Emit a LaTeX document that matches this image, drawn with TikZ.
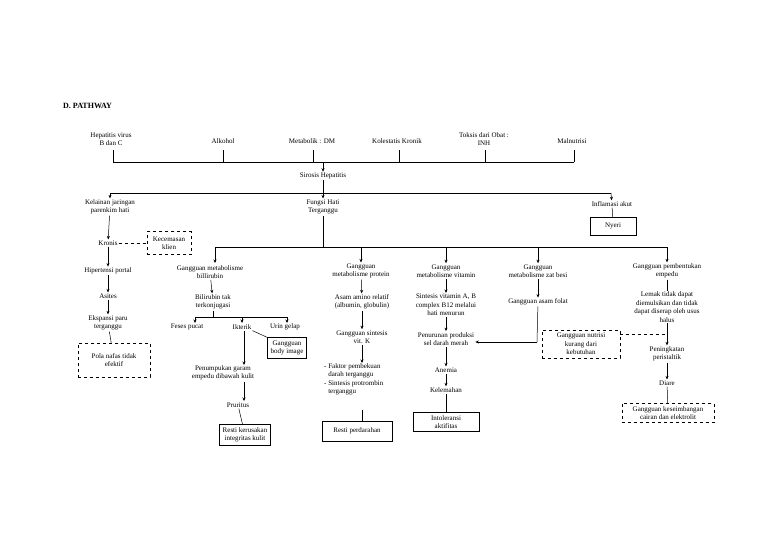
\documentclass[tikz,border=0pt]{standalone}
\usepackage{fontspec}
\setmainfont{Liberation Serif}
\usetikzlibrary{arrows.meta}
\begin{document}
\begin{tikzpicture}[x=1pt,y=-1pt,
  every node/.style={font=\fontsize{7}{8.5}\selectfont,align=center,inner sep=1pt},
  ln/.style={line width=0.5pt},
  ar/.style={line width=0.5pt,-{Stealth[length=3.5pt,width=3pt]}},
  dbox/.style={draw,dashed,line width=0.5pt,inner sep=3pt},
  sbox/.style={draw,line width=0.5pt,inner sep=3pt},
  dl/.style={dashed,line width=0.5pt}]
\useasboundingbox (0,0) rectangle (768,543);
\node[font=\fontsize{8}{9}\selectfont\bfseries,anchor=west] (title) at (62,106) {D. PATHWAY};
% causes
\node (c1) at (111,139) {Hepatitis virus\\B dan C};
\node (c2) at (223,141) {Alkohol};
\node (c3) at (312,141) {Metabolik : DM};
\node (c4) at (397,141) {Kolestatis Kronik};
\node (c5) at (484,139) {Toksis dari Obat :\\INH};
\node (c6) at (572,141) {Malnutrisi};
\foreach \x in {113,223,313,399,485,574} \draw[ln] (\x,150) -- (\x,162);
\draw[ln] (113,162) -- (574,162);
\node (sir) at (323,176) {Sirosis Hepatitis};
\coordinate (s0) at (323,162);
\draw[ar] (s0) -- (sir);
\draw[ln] (sir.south) -- (323,193);
\draw[ln] (110,193) -- (611,193);
\node (kel) at (110,207) {Kelainan jaringan\\parenkim hati};
\node (fun) at (323,207) {Fungsi Hati\\Terganggu};
\node (inf) at (612,204) {Inflamasi akut};
\draw[ar] (110,193) -- (kel);
\draw[ar] (323,193) -- (fun);
\draw[ar] (611,193) -- (inf);
\node[sbox,minimum width=46pt,minimum height=18pt] (nyeri) at (613,226) {Nyeri};
\draw[ln] (inf) -- (nyeri);
% left column
\node (kro) at (108,243) {Kronis};
\node (hip) at (108,271) {Hipertensi portal};
\node (asi) at (108,296) {Asites};
\node (eks) at (108,323) {Ekspansi paru\\terganggu};
\node[dbox,minimum width=72pt,minimum height=34pt] (pola) at (114,360) {Pola nafas tidak\\efektif};
\node[dbox,minimum width=44pt,minimum height=23pt] (kec) at (169,243) {Kecemasan\\klien};
\draw[ar] (kel) -- (kro);
\draw[ar] (kro) -- (hip);
\draw[ar] (hip) -- (asi);
\draw[ar] (asi) -- (eks);
\draw[ln] (eks) -- (pola);
\draw[dl] (kro) -- (kec);
% second level
\draw[ln] (fun) -- (323,247);
\draw[ln] (215,247) -- (667,247);
\node (bil) at (210,272) {Gangguan metabolisme\\billirubin};
\node (pro) at (361,271) {Gangguan\\metabolisme protein};
\node (vit) at (446,271) {Gangguan\\metabolisme vitamin};
\node (zat) at (538,271) {Gangguan\\metabolisme zat besi};
\node (emp) at (667,271) {Gangguan pembentukan\\empedu};
\draw[ar] (215,247) -- (215,263);
\draw[ar] (361,247) -- (pro);
\draw[ar] (446,247) -- (vit);
\draw[ar] (538,247) -- (zat);
\draw[ar] (667,247) -- (emp);
% bilirubin
\node (bt) at (213,302) {Bilirubin tak\\terkonjugasi};
\draw[ar] (bil) -- (bt);
\draw[ln] (bt) -- (213,317);
\draw[ln] (195,317) -- (287,317);
\node (fes) at (187,327) {Feses pucat};
\node (ikt) at (242,327) {Ikterik};
\node (uri) at (285,327) {Urin gelap};
\draw[ar] (195,317) -- (195,323);
\draw[ar] (242,317) -- (242,323);
\draw[ar] (287,317) -- (287,323);
\node[sbox] (body) at (287,348) {Gangguan\\body image};
\draw[ln] (ikt.south east) -- (body.north west);
\node (pen) at (223,373) {Penumpukan garam\\empedu dibawah kulit};
\draw[ar] (244,331) -- (244,365);
\node (pru) at (238,405) {Pruritus};
\draw[ar] (pen.south -| 244,0) -- (244,401);
\node[sbox] (res1) at (245,435) {Resti kerusakan\\integritas kulit};
\draw[ln] (pru) -- (res1);
% protein
\node (asa) at (362,302) {Asam amino relatif\\(albumin, globulin)};
\draw[ar] (pro) -- (asa);
\node (gsv) at (362,337) {Gangguan sintesis\\vit. K};
\draw[ar] (asa) -- (gsv);
\node[align=left,anchor=north west] (fak) at (323,362) {- Faktor pembekuan\\\phantom{- }darah terganggu\\- Sintesis protrombin\\\phantom{- }terganggu};
\draw[ar] (gsv) -- (362,363);
\node[sbox,minimum width=70pt,minimum height=20pt] (res2) at (357,431) {Resti perdarahan};
\draw[ln] (362,410) -- (362,421);
% vitamin
\node (sin) at (446,305) {Sintesis vitamin A, B\\complex B12 melalui\\hati menurun};
\draw[ar] (vit) -- (sin);
\node (pnr) at (446,339) {Penurunan produksi\\sel darah merah};
\draw[ar] (sin) -- (pnr);
\node (ane) at (446,370) {Anemia};
\draw[ar] (pnr) -- (ane);
\node (kle) at (446,390) {Kelemahan};
\draw[ar] (ane) -- (kle);
\node[sbox,minimum width=66pt] (int) at (446,422) {Intoleransi\\aktifitas};
\draw[ln] (kle) -- (int);
% zat besi
\node (fol) at (538,302) {Gangguan asam folat};
\draw[ar] (zat) -- (fol);
\coordinate (fc) at (537,342);
\draw[ln] (fol) -- (fc);
\draw[ar] (fc) -- (pnr.east |- fc);
% empedu
\node (lem) at (667,307) {Lemak tidak dapat\\diemulsikan dan tidak\\dapat diserap oleh usus\\halus};
\draw[ln] (emp) -- (lem);
\node (per) at (667,354) {Peningkatan\\peristaltik};
\draw[ar] (lem) -- (per);
\node (dia) at (667,383) {Diare};
\draw[ar] (per) -- (dia);
\node[dbox,minimum width=92pt] (kes) at (668,413) {Gangguan keseimbangan\\cairan dan elektrolit};
\draw[ln] (dia) -- (kes);
\node[dbox,minimum width=78pt] (nut) at (581,344) {Gangguan nutrisi\\kurang dari\\kebutuhan};
\draw[dl] (nut.east |- 0,334) -- (667,334);
\end{tikzpicture}
\end{document}
